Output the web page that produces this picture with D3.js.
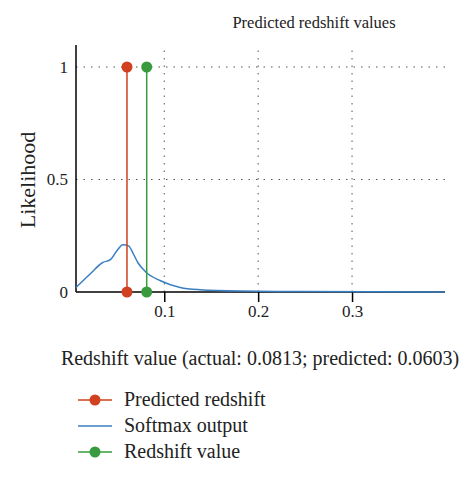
<!DOCTYPE html><html><head><script src="https://cdn.jsdelivr.net/npm/d3@7"></script>
<style>body{margin:0;background:#fff}text{font-family:"Liberation Serif","DejaVu Serif",serif}</style></head><body>
<svg id="c" width="474" height="477"></svg>
<script>
const softX=[0.006,0.021,0.034,0.043,0.049,0.056,0.062,0.067,0.072,0.08,0.096,0.117,0.138,0.18,0.245,0.399];
const softY=[0.02,0.08,0.13,0.145,0.18,0.21,0.205,0.17,0.13,0.09,0.05,0.02,0.01,0.004,0.002,0];
const predicted=0.0603, actual=0.0813;
const xTicks=[0.1,0.2,0.3], yTicks=[0,0.5,1];
const svg=d3.select("#c");
const x=d3.scaleLinear().domain([0.006,0.399]).range([76,445]);
const y=d3.scaleLinear().domain([0,1]).range([292,67]);
const g=svg.append("g");
xTicks.forEach(t=>g.append("line").attr("x1",x(t)).attr("x2",x(t)).attr("y1",292).attr("y2",45).attr("stroke","#555").attr("stroke-dasharray","1.5,6"));
[0.5,1].forEach(t=>g.append("line").attr("x1",76).attr("x2",445).attr("y1",y(t)).attr("y2",y(t)).attr("stroke","#555").attr("stroke-dasharray","1.5,6"));
const xa=svg.append("g").attr("transform","translate(0,292)").call(d3.axisBottom(x).tickValues(xTicks).tickSize(10).tickFormat(d3.format("")));
const ya=svg.append("g").attr("transform","translate(76,0)").call(d3.axisLeft(y).tickValues(yTicks).tickSize(0).tickPadding(8).tickFormat(d3.format("")));
[xa,ya].forEach(a=>{a.select(".domain").remove();a.selectAll("text").attr("font-size",17).attr("fill","#222").style("font-family","Liberation Serif");a.selectAll("line").attr("stroke","#000").attr("stroke-width",1.5);});
svg.append("line").attr("x1",76).attr("x2",445).attr("y1",292).attr("y2",292).attr("stroke","#000").attr("stroke-width",1.5);
svg.append("line").attr("x1",76).attr("x2",76).attr("y1",292).attr("y2",45).attr("stroke","#000").attr("stroke-width",1.5);
svg.append("path").datum(softX.map((d,i)=>[d,softY[i]])).attr("fill","none").attr("stroke","#3a7fc1").attr("stroke-width",1.5)
 .attr("d",d3.line().x(d=>x(d[0])).y(d=>y(d[1])).curve(d3.curveMonotoneX));
[[predicted,"#d1401f"],[actual,"#3a9a3f"]].forEach(([v,c])=>{
 svg.append("line").attr("x1",x(v)).attr("x2",x(v)).attr("y1",y(0)).attr("y2",y(1)).attr("stroke",c).attr("stroke-width",1.5);
 [0,1].forEach(k=>svg.append("circle").attr("cx",x(v)).attr("cy",y(k)).attr("r",5.5).attr("fill",c));
});
svg.append("text").attr("x",314).attr("y",28).attr("text-anchor","middle").attr("font-size",16.5).attr("fill","#222").text("Predicted redshift values");
svg.append("text").attr("transform","translate(35,180) rotate(-90)").attr("text-anchor","middle").attr("font-size",22).attr("fill","#222").text("Likelihood");
svg.append("text").attr("x",260).attr("y",365).attr("text-anchor","middle").attr("font-size",20).attr("fill","#222").text("Redshift value (actual: 0.0813; predicted: 0.0603)");
const leg=[["Predicted redshift","#d1401f",true],["Softmax output","#3a7fc1",false],["Redshift value","#3a9a3f",true]];
leg.forEach((l,i)=>{const yy=400+i*26;
 svg.append("line").attr("x1",78).attr("x2",112).attr("y1",yy).attr("y2",yy).attr("stroke",l[1]).attr("stroke-width",1.5);
 if(l[2]) svg.append("circle").attr("cx",95).attr("cy",yy).attr("r",5.5).attr("fill",l[1]);
 svg.append("text").attr("x",124).attr("y",yy+6).attr("font-size",20).attr("fill","#222").text(l[0]);
});
</script></body></html>
